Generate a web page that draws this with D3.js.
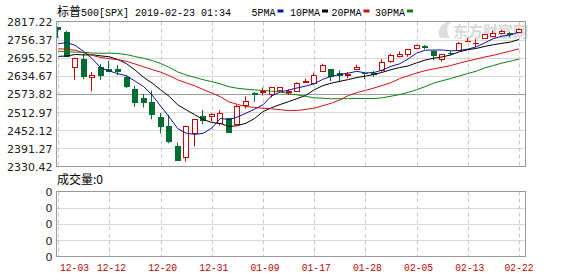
<!DOCTYPE html>
<html>
<head>
<meta charset="utf-8">
<script src="https://cdnjs.cloudflare.com/ajax/libs/d3/7.8.5/d3.min.js"></script>
<style>
  html, body { margin: 0; padding: 0; background: #fff; }
  svg { display: block; }
</style>
</head>
<body>
<div id="chart"></div>
<script>
// ---- data ----
const dates = ['12-03','12-04','12-06','12-07','12-10','12-11','12-12','12-13','12-14','12-17',
  '12-18','12-19','12-20','12-21','12-24','12-26','12-27','12-28','12-31','01-02',
  '01-03','01-04','01-07','01-08','01-09','01-10','01-11','01-14','01-15','01-16',
  '01-17','01-18','01-22','01-23','01-24','01-25','01-28','01-29','01-30','01-31',
  '02-01','02-04','02-05','02-06','02-07','02-08','02-11','02-12','02-13','02-14',
  '02-15','02-19','02-20','02-21','02-22'];

const opens = [2800.2,2782.43,2663.51,2691.26,2630.86,2664.44,2658.23,2658.70,2629.68,2590.75,
  2559.90,2547.05,2496.77,2465.38,2400.56,2363.12,2442.50,2498.77,2498.94,2476.96,
  2491.92,2474.33,2535.61,2576.00,2580.00,2573.51,2588.11,2580.31,2585.10,2614.75,
  2609.28,2651.27,2657.88,2643.48,2638.84,2657.44,2644.97,2644.89,2653.62,2685.49,
  2702.32,2706.49,2728.34,2735.05,2717.53,2692.36,2712.40,2722.61,2750.30,2743.50,
  2760.24,2769.28,2779.05,2780.24,2780.67];

const highs = [2800.2,2785.93,2696.15,2708.54,2647.51,2674.35,2685.44,2670.19,2635.07,2601.13,
  2573.99,2585.29,2509.63,2504.41,2410.34,2467.76,2489.10,2520.27,2509.24,2519.49,
  2493.14,2538.07,2566.16,2579.82,2595.32,2597.82,2596.27,2589.32,2613.08,2625.76,
  2645.06,2675.47,2657.88,2653.19,2647.20,2672.38,2644.97,2650.93,2690.44,2708.95,
  2716.66,2724.99,2738.98,2738.08,2719.32,2708.07,2718.05,2748.19,2761.85,2757.90,
  2775.66,2787.33,2789.88,2781.58,2794.20];

const lows = [2762.0,2697.18,2621.53,2623.14,2583.23,2621.30,2650.26,2637.27,2593.84,2530.54,
  2528.71,2488.96,2441.18,2408.55,2351.10,2346.58,2397.94,2472.89,2482.82,2467.47,
  2443.96,2474.33,2524.56,2547.56,2568.89,2562.02,2577.40,2570.41,2585.10,2612.68,
  2606.36,2647.58,2617.27,2612.86,2627.01,2657.33,2624.06,2631.05,2648.34,2678.65,
  2696.88,2698.75,2724.03,2724.15,2687.26,2681.83,2703.79,2722.61,2748.63,2731.23,
  2760.24,2767.29,2774.06,2764.55,2779.11];

const closes = [2790.37,2700.06,2695.95,2633.08,2637.72,2636.78,2651.07,2650.54,2599.95,2545.94,
  2546.16,2506.96,2467.42,2416.62,2351.10,2467.70,2488.83,2485.74,2506.85,2510.03,
  2447.89,2531.94,2549.69,2574.41,2584.96,2596.64,2596.26,2582.61,2610.30,2616.10,
  2635.96,2670.71,2632.90,2638.70,2642.33,2664.76,2643.85,2640.00,2681.05,2704.10,
  2706.53,2724.87,2737.70,2731.61,2706.05,2707.88,2709.80,2744.73,2753.03,2745.73,
  2775.60,2779.76,2784.70,2774.88,2792.67];

// closes before the first visible day (needed by the moving averages)
const priorCloses = [2755.88,2740.69,2656.10,2705.57,2658.69,2641.25,2682.63,2711.74,
  2740.37,2723.06,2738.31,2755.45,2813.89,2806.83,2781.01,2726.22,2722.18,2701.58,
  2730.20,2736.27,2690.73,2641.89,2649.93,2632.56,2673.45,2682.17,2743.79,2737.76,2760.17];

const maPeriods = [5, 10, 20, 30];
const maColors  = ['#1010a0', '#000000', '#d01010', '#108010'];
const maNames   = ['5PMA', '10PMA', '20PMA', '30PMA'];

const yTicks = [2330.42,2391.27,2452.12,2512.97,2573.82,2634.67,2695.52,2756.37,2817.22];
const xTickDates = ['12-03','12-12','12-20','12-31','01-09','01-17','01-28','02-05','02-13','02-22'];
const volTicks = [0, 1, 2, 3, 4];

// ---- layout ----
const W = 578, H = 276;
const left = 56.5, right = 525.5;
const top1 = 21.5, bot1 = 166.5;
const top2 = 191.5, bot2 = 256.5;
const RED = '#d00000', GREEN = '#006e30';
const FONT_ASCII = 'Liberation Mono, DejaVu Sans Mono, monospace';
const FONT_CJK = 'Noto Sans CJK SC, sans-serif';

const svg = d3.select('#chart').append('svg').attr('width', W).attr('height', H);

const x = d3.scalePoint().domain(dates).range([58.3, 519]);
const y = d3.scaleLinear().domain([2330.42, 2817.22]).range([bot1, top1]);
const yv = d3.scaleLinear().domain([0, 4]).range([bot2, top2]);

const px = v => Math.round(v) + 0.5;

// ---- grid ----
const grid = svg.append('g');
yTicks.slice(1, -1).forEach(v => {
  grid.append('line')
    .attr('x1', left).attr('x2', right).attr('y1', px(y(v))).attr('y2', px(y(v)))
    .attr('stroke', v === 2573.82 ? '#999' : '#d8d8d8');
});
volTicks.slice(1, -1).forEach(v => {
  grid.append('line')
    .attr('x1', left).attr('x2', right).attr('y1', px(yv(v))).attr('y2', px(yv(v)))
    .attr('stroke', '#d8d8d8');
});
xTickDates.forEach(d => {
  [[top1, bot1], [top2, bot2]].forEach(([a, b]) => {
    grid.append('line')
      .attr('x1', px(x(d))).attr('x2', px(x(d))).attr('y1', a).attr('y2', b)
      .attr('stroke', '#c8c8c8').attr('stroke-dasharray', '4,3');
  });
});

// watermark
svg.append('text').attr('x', 453).attr('y', 37)
  .attr('font-family', FONT_CJK).attr('font-size', 15).attr('font-weight', 700)
  .attr('fill', '#c8c8c8').attr('opacity', 0.7).text('东方财富网');
svg.append('path').attr('d', 'M440,38 C436,30 442,22 452,21 C446,26 446,32 450,38 Z')
  .attr('fill', '#cfcfcf').attr('opacity', 0.7);

// ---- candles ----
const clip = svg.append('defs').append('clipPath').attr('id', 'clip1')
  .append('rect').attr('x', left).attr('y', top1).attr('width', right - left).attr('height', bot1 - top1);
const candles = svg.append('g').attr('clip-path', 'url(#clip1)');

dates.forEach((d, i) => {
  const cx = Math.round(x(d));
  const o = opens[i], c = closes[i];
  const up = c >= o;
  const col = up ? RED : GREEN;
  candles.append('line')
    .attr('x1', cx - 0.5).attr('x2', cx - 0.5)
    .attr('y1', y(highs[i])).attr('y2', y(lows[i]))
    .attr('stroke', col);
  const yt = Math.round(y(Math.max(o, c))) + 0.5;
  const yb = Math.round(y(Math.min(o, c))) + 0.5;
  if (yb - yt < 1) {
    candles.append('line')
      .attr('x1', cx - 3).attr('x2', cx + 3).attr('y1', yt).attr('y2', yt)
      .attr('stroke', col);
  } else {
    candles.append('rect')
      .attr('x', cx - 2.5).attr('y', yt).attr('width', 5).attr('height', yb - yt)
      .attr('fill', up ? '#fff' : GREEN).attr('stroke', col);
  }
});

// ---- moving averages ----
const allCloses = priorCloses.concat(closes);
maPeriods.forEach((p, k) => {
  const pts = dates.map((d, i) => {
    const j = priorCloses.length + i;
    const win = allCloses.slice(j - p + 1, j + 1);
    return [x(d), y(d3.mean(win))];
  });
  candles.append('path')
    .attr('d', d3.line()(pts))
    .attr('fill', 'none').attr('stroke', maColors[k]).attr('stroke-width', 1);
});

// ---- frames ----
svg.append('rect').attr('x', left).attr('y', top1).attr('width', right - left).attr('height', bot1 - top1)
  .attr('fill', 'none').attr('stroke', '#999');
svg.append('rect').attr('x', left).attr('y', top2).attr('width', right - left).attr('height', bot2 - top2)
  .attr('fill', 'none').attr('stroke', '#999');

// ---- axes labels ----
const yAxis = d3.axisLeft(y).tickValues(yTicks).tickSize(0).tickPadding(0).tickFormat(d3.format('.2f'));
const gy = svg.append('g').attr('transform', 'translate(52.5,0)').call(yAxis);
gy.select('.domain').remove();
gy.selectAll('text').attr('font-family', 'DejaVu Sans, sans-serif').attr('font-size', 11)
  .attr('fill', '#222').attr('dy', '0.36em');

const vAxis = d3.axisLeft(yv).tickValues(volTicks).tickSize(0).tickPadding(0).tickFormat(() => '0');
const gv = svg.append('g').attr('transform', 'translate(52.5,0)').call(vAxis);
gv.select('.domain').remove();
gv.selectAll('text').attr('font-family', 'DejaVu Sans, sans-serif').attr('font-size', 11)
  .attr('fill', '#222').attr('dy', '0.36em');

xTickDates.forEach(d => {
  const cx = Math.max(74.5, Math.min(519, x(d) + 2));
  svg.append('text')
    .attr('x', cx - 14.5).attr('y', 271)
    .attr('font-family', FONT_ASCII).attr('font-size', 11)
    .attr('textLength', 29).attr('lengthAdjust', 'spacingAndGlyphs')
    .attr('fill', '#c00000').text(d);
});

// ---- title and legend ----
function ascii(str, x0, yb) {
  svg.append('text').attr('x', x0).attr('y', yb)
    .attr('font-family', FONT_ASCII).attr('font-size', 11)
    .attr('textLength', str.length * 6).attr('lengthAdjust', 'spacingAndGlyphs')
    .attr('fill', '#000').text(str);
}
svg.append('text').attr('x', 57).attr('y', 16)
  .attr('font-family', FONT_CJK).attr('font-size', 12).attr('fill', '#000').text('标普');
ascii('500[SPX]', 81, 15.5);
ascii('2019-02-23 01:34', 135, 15.5);

const legendX = [251.5, 290, 331.5, 375];
maNames.forEach((n, k) => {
  ascii(n, legendX[k], 15.5);
  const sx = legendX[k] + n.length * 6 + 2;
  svg.append('rect').attr('x', sx).attr('y', 9.5).attr('width', 6).attr('height', 3)
    .attr('fill', maColors[k]);
});

svg.append('text').attr('x', 57).attr('y', 184)
  .attr('font-family', FONT_CJK).attr('font-size', 12).attr('fill', '#000').text('成交量:0');
</script>
</body>
</html>
